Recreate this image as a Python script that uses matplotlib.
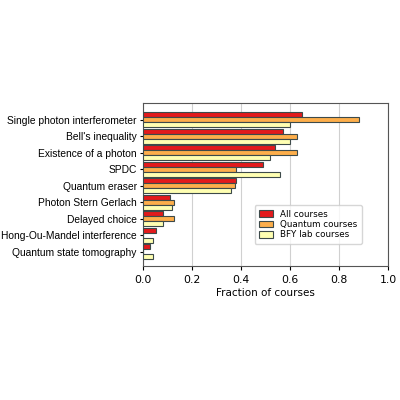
import numpy as np
import matplotlib.pyplot as plt

topics = ['Single photon interferometer', "Bell's inequality", 'Existence of a photon',
          'SPDC', 'Quantum eraser', 'Photon Stern Gerlach', 'Delayed choice',
          'Hong-Ou-Mandel interference', 'Quantum state tomography']
all_courses = [0.65, 0.57, 0.54, 0.49, 0.38, 0.11, 0.08, 0.054, 0.027]
quantum_courses = [0.88, 0.63, 0.63, 0.38, 0.376, 0.125, 0.125, 0.0, 0.0]
bfy_courses = [0.60, 0.60, 0.52, 0.56, 0.36, 0.12, 0.08, 0.041, 0.041]

fig = plt.figure(figsize=(4, 4), dpi=100)
ax = fig.add_axes([0.3575, 0.335, 0.6125, 0.4075])

y = np.arange(len(topics))[::-1]
h = 0.3
edge = '#3d4a4a'
ax.barh(y + h, all_courses, h, color='#e31a1c', edgecolor=edge, linewidth=0.8, label='All courses', zorder=3)
ax.barh(y, quantum_courses, h, color='#fdae4b', edgecolor=edge, linewidth=0.8, label='Quantum courses', zorder=3)
ax.barh(y - h, bfy_courses, h, color='#ffffb2', edgecolor=edge, linewidth=0.8, label='BFY lab courses', zorder=3)

ax.set_yticks(y)
ax.set_yticklabels(topics, fontsize=7.4, family='Liberation Sans')
ax.tick_params(axis='y', length=2.5, pad=2)
ax.set_xlim(0, 1.0)
ax.set_ylim(-0.85, 9.0)
ax.tick_params(axis='x', labelsize=7.8, length=3)
ax.set_xlabel('Fraction of courses', fontsize=7.5, labelpad=2)
ax.grid(axis='x', color='#d0d0d0', linewidth=0.8, zorder=0)
for s in ax.spines.values():
    s.set_color('#555555')
ax.legend(loc='lower right', bbox_to_anchor=(0.91, 0.11), fontsize=6.3, handlelength=1.6,
          handleheight=0.8, labelspacing=0.15, borderpad=0.5)

fig.savefig('out.png')
